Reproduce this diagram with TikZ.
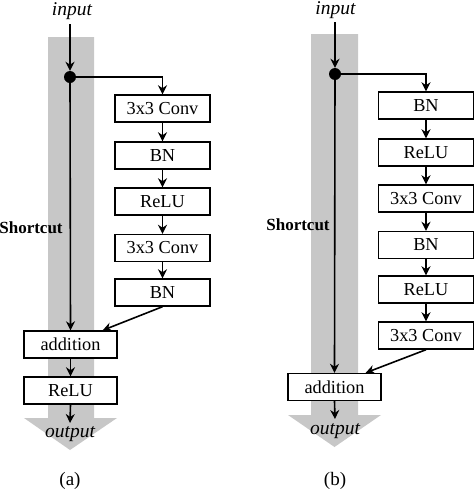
\documentclass[tikz,border=0pt]{standalone}
\usepackage{fontspec}
\setmainfont{Liberation Serif}
\usetikzlibrary{arrows.meta,calc}
\begin{document}
\begin{tikzpicture}[x=1pt,y=-1pt,
  box/.style={draw=black,line width=1.4pt,fill=white,minimum height=27pt,inner sep=0pt,font=\fontsize{18.3}{20}\selectfont},
  rbox/.style={box,minimum width=95pt},
  lbox/.style={box,minimum width=93pt},
  arr/.style={line width=1.6pt,-{Stealth[length=9pt,width=9pt]}},
  shaft/.style={fill=black!22,draw=none},
  lab/.style={font=\fontsize{19.5}{20}\selectfont\itshape,inner sep=0pt},
  captext/.style={font=\fontsize{19}{20}\selectfont,inner sep=0pt},
  sc/.style={font=\fontsize{17}{20}\selectfont\bfseries,inner sep=0pt}]
\useasboundingbox (0,0) rectangle (474,493);
% ---------- panel (a) ----------
\fill[shaft] (48,37) -- (94,37) -- (94,418) -- (117,418) -- (70,450) -- (24,418) -- (48,418) -- cycle;
\node[lab] (inA) at (72,11) {input};
\node[circle,fill=black,inner sep=0pt,minimum size=12pt] (dotA) at (70,77) {};
\node[rbox] (a1) at (162.5,108.5) {3x3 Conv};
\node[rbox] (a2) at (162.5,155.5) {BN};
\node[rbox] (a3) at (162.5,201.5) {ReLU};
\node[rbox] (a4) at (162.5,248) {3x3 Conv};
\node[rbox] (a5) at (162.5,292.5) {BN};
\node[lbox] (addA) at (70.5,344.5) {addition};
\node[lbox] (reluA) at (70.5,390.5) {ReLU};
\node[lab] (outA) at (70,434) {output};
\node[captext] (capA) at (70,481) {(a)};
\node[sc] (scA) at (31,228) {Shortcut};
\coordinate (tipA) at (70,423);
\draw[arr] (70,24) -- (dotA);
\draw[arr] (dotA.center) -| (a1.north);
\draw[arr] (a1) -- (a2);
\draw[arr] (a2) -- (a3);
\draw[arr] (a3) -- (a4);
\draw[arr] (a4) -- (a5);
\draw[arr] (dotA.center) -- (addA.north);
\draw[arr] (a5.south) -- ($(addA.north east)+(-15,0)$);
\draw[arr] (addA) -- (reluA);
\draw[arr] (reluA.south) -- (tipA);
% ---------- panel (b) ----------
\fill[shaft] (311,34) -- (358,34) -- (358,415) -- (381,415) -- (334.5,447) -- (288,415) -- (311,415) -- cycle;
\node[lab] (inB) at (335.5,10) {input};
\node[circle,fill=black,inner sep=0pt,minimum size=12pt] (dotB) at (335,74) {};
\node[rbox] (b1) at (426,105.5) {BN};
\node[rbox] (b2) at (426,152.5) {ReLU};
\node[rbox] (b3) at (426,198.5) {3x3 Conv};
\node[rbox] (b4) at (426,245) {BN};
\node[rbox] (b5) at (426,289.5) {ReLU};
\node[rbox] (b6) at (426,335.5) {3x3 Conv};
\node[lbox] (addB) at (334.5,387) {addition};
\node[lab] (outB) at (335,431) {output};
\node[captext] (capB) at (335,481) {(b)};
\node[sc] (scB) at (298,225) {Shortcut};
\coordinate (tipB) at (335,419);
\draw[arr] (335,22) -- (dotB);
\draw[arr] (dotB.center) -| (b1.north);
\draw[arr] (b1) -- (b2);
\draw[arr] (b2) -- (b3);
\draw[arr] (b3) -- (b4);
\draw[arr] (b4) -- (b5);
\draw[arr] (b5) -- (b6);
\draw[arr] (dotB.center) -- (addB.north);
\draw[arr] (b6.south) -- ($(addB.north east)+(-16,0)$);
\draw[arr] (addB.south) -- (tipB);
\end{tikzpicture}
\end{document}
